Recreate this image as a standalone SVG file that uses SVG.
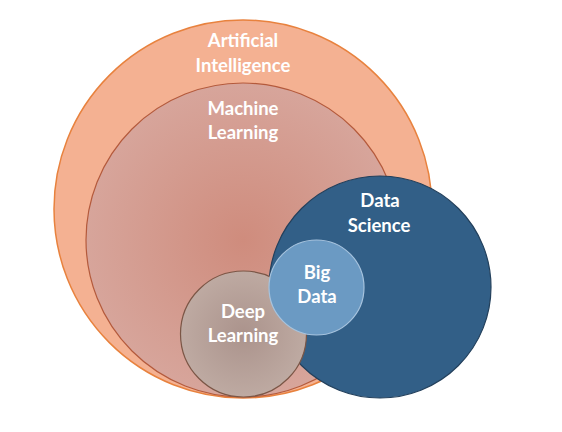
<svg xmlns="http://www.w3.org/2000/svg" width="562" height="432" viewBox="0 0 562 432">
<defs>
<radialGradient id="gML" cx="0.5" cy="0.5" r="0.5">
<stop offset="0" stop-color="#CF8C7D"/>
<stop offset="1" stop-color="#D7A59B"/>
</radialGradient>
<radialGradient id="gDL" cx="0.5" cy="0.5" r="0.5">
<stop offset="0" stop-color="#AB938C"/>
<stop offset="1" stop-color="#BEAAA2"/>
</radialGradient>
<style>
.lbl{font-family:Lato,"Open Sans","Liberation Sans",sans-serif;font-weight:700;font-size:18.5px;fill:#FFFFFF;text-anchor:middle}
</style>
</defs>
<rect width="562" height="432" fill="#FFFFFF"/>
<g id="ai">
<circle cx="243" cy="209" r="189" fill="#F4B192" stroke="#E8823E" stroke-width="1.5"/>
<text class="lbl" x="243" y="47">Artificial</text>
<text class="lbl" x="243" y="72">Intelligence</text>
</g>
<g id="ml">
<circle cx="243" cy="240" r="157" fill="url(#gML)" stroke="#B45A3C" stroke-width="1.2"/>
<text class="lbl" x="243" y="115">Machine</text>
<text class="lbl" x="243" y="139">Learning</text>
</g>
<g id="ds">
<circle cx="380" cy="287" r="111" fill="#325F87" stroke="#23405C" stroke-width="1.2"/>
<text class="lbl" x="380" y="207">Data</text>
<text class="lbl" x="379" y="232">Science</text>
</g>
<g id="dl">
<circle cx="243.5" cy="334" r="63" fill="url(#gDL)" stroke="#7B5646" stroke-width="1.2"/>
<text class="lbl" x="243" y="318">Deep</text>
<text class="lbl" x="243" y="342">Learning</text>
</g>
<g id="bd">
<circle cx="316.5" cy="287.5" r="47.5" fill="#6B9AC3" stroke="#A6C3DE" stroke-width="1.2"/>
<text class="lbl" x="317" y="279">Big</text>
<text class="lbl" x="317" y="303">Data</text>
</g>
</svg>
